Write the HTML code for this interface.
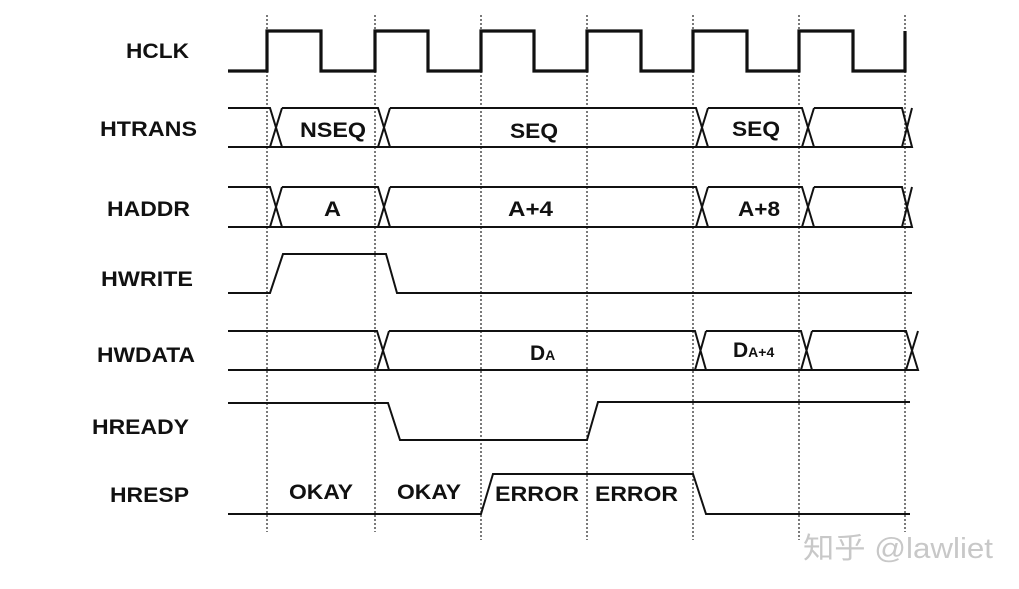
<!DOCTYPE html>
<html><head><meta charset="utf-8"><style>
html,body{margin:0;padding:0;background:#fff;}
svg{display:block;}
text{font-family:"Liberation Sans",Arial,sans-serif;font-weight:bold;fill:#111;}
</style></head><body>
<svg width="1019" height="589" viewBox="0 0 1019 589" xmlns="http://www.w3.org/2000/svg">
<g stroke="#333" stroke-width="1.3" stroke-dasharray="2,2">
<line x1="267" y1="15" x2="267" y2="532"/>
<line x1="375" y1="15" x2="375" y2="532"/>
<line x1="481" y1="15" x2="481" y2="540"/>
<line x1="587" y1="15" x2="587" y2="540"/>
<line x1="693" y1="15" x2="693" y2="540"/>
<line x1="799" y1="15" x2="799" y2="540"/>
<line x1="905" y1="15" x2="905" y2="532"/>
</g>
<g fill="none" stroke="#111" stroke-linejoin="miter">
<polyline stroke-width="3.2" points="228,71 267,71 267,31 321,31 321,71 375,71 375,31 428,31 428,71 481,71 481,31 534,31 534,71 587,71 587,31 641,31 641,71 693,71 693,31 747,31 747,71 799,71 799,31 853,31 853,71 905,71 905,31"/>
<g stroke-width="2">
<polyline points="228,108 270,108 282,147 228,147 270,147 282,108"/>
<polyline points="282,108 378,108 390,147 282,147 378,147 390,108"/>
<polyline points="390,108 696,108 708,147 390,147 696,147 708,108"/>
<polyline points="708,108 802,108 814,147 708,147 802,147 814,108"/>
<polyline points="814,108 902,108 912,147 814,147 902,147 912,108"/>
<polyline points="228,187 270,187 282,227 228,227 270,227 282,187"/>
<polyline points="282,187 378,187 390,227 282,227 378,227 390,187"/>
<polyline points="390,187 696,187 708,227 390,227 696,227 708,187"/>
<polyline points="708,187 802,187 814,227 708,227 802,227 814,187"/>
<polyline points="814,187 902,187 912,227 814,227 902,227 912,187"/>
<polyline points="228,293 270,293 283,254 386,254 397,293 912,293"/>
<polyline points="228,331 377,331 389,370 228,370 377,370 389,331"/>
<polyline points="389,331 695,331 706,370 389,370 695,370 706,331"/>
<polyline points="706,331 801,331 812,370 706,370 801,370 812,331"/>
<polyline points="812,331 906,331 918,370 812,370 906,370 918,331"/>
<polyline points="228,403 388,403 400,440 587,440 598,402 910,402"/>
<polyline points="228,514 481,514 493,474 693,474 706,514 910,514"/>
</g>
</g>
<g font-size="21" lengthAdjust="spacingAndGlyphs">
<text x="126" y="58" textLength="63" lengthAdjust="spacingAndGlyphs">HCLK</text>
<text x="100" y="136" textLength="97" lengthAdjust="spacingAndGlyphs">HTRANS</text>
<text x="107" y="216" textLength="83" lengthAdjust="spacingAndGlyphs">HADDR</text>
<text x="101" y="286" textLength="92" lengthAdjust="spacingAndGlyphs">HWRITE</text>
<text x="97" y="362" textLength="98" lengthAdjust="spacingAndGlyphs">HWDATA</text>
<text x="92" y="434" textLength="97" lengthAdjust="spacingAndGlyphs">HREADY</text>
<text x="110" y="502" textLength="79" lengthAdjust="spacingAndGlyphs">HRESP</text>
<text x="300" y="137" textLength="66" lengthAdjust="spacingAndGlyphs">NSEQ</text>
<text x="510" y="138" textLength="48" lengthAdjust="spacingAndGlyphs">SEQ</text>
<text x="732" y="136" textLength="48" lengthAdjust="spacingAndGlyphs">SEQ</text>
<text x="324" y="216" textLength="17" lengthAdjust="spacingAndGlyphs">A</text>
<text x="508" y="216" textLength="45" lengthAdjust="spacingAndGlyphs">A+4</text>
<text x="738" y="216" textLength="42" lengthAdjust="spacingAndGlyphs">A+8</text>
<text x="530" y="360">D<tspan font-size="14">A</tspan></text>
<text x="733" y="357">D<tspan font-size="14">A+4</tspan></text>
<text x="289" y="499" textLength="64" lengthAdjust="spacingAndGlyphs">OKAY</text>
<text x="397" y="499" textLength="64" lengthAdjust="spacingAndGlyphs">OKAY</text>
<text x="495" y="501" textLength="84" lengthAdjust="spacingAndGlyphs">ERROR</text>
<text x="595" y="501" textLength="83" lengthAdjust="spacingAndGlyphs">ERROR</text>
</g>
<text x="803" y="558" font-size="29" textLength="190" lengthAdjust="spacingAndGlyphs" style="font-weight:normal;fill:#c8c8c8;font-family:'Liberation Sans','Noto Sans CJK SC',sans-serif">知乎 @lawliet</text>
</svg>
</body></html>
